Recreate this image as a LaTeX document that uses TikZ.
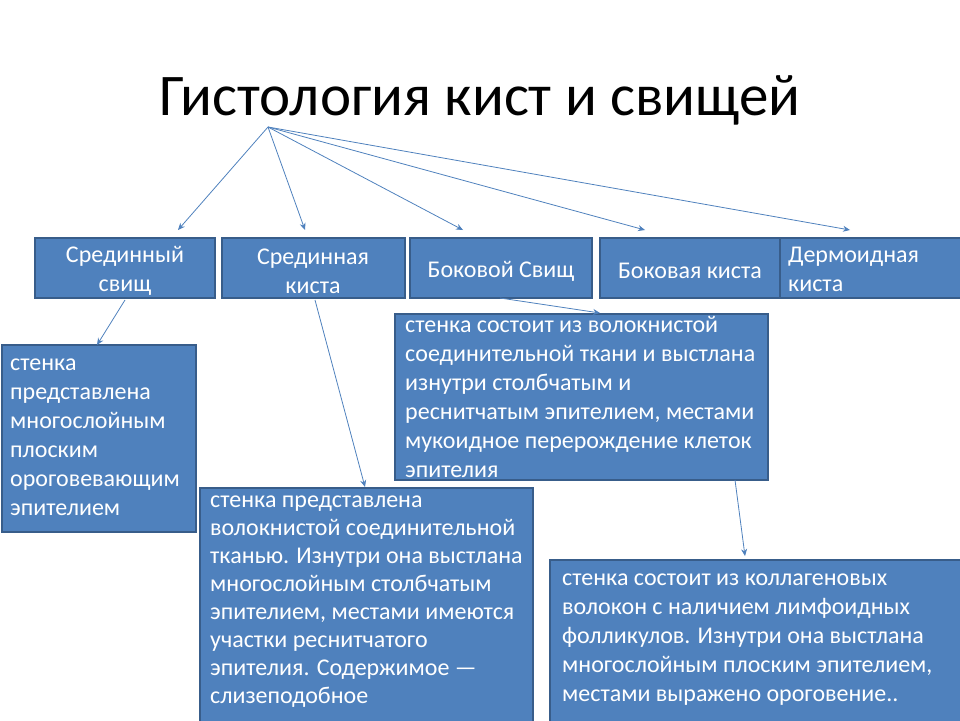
\documentclass[tikz,border=0pt]{standalone}
\usepackage{fontspec}
\setmainfont{Carlito}
\usetikzlibrary{arrows.meta}
\definecolor{bx}{HTML}{4F81BD}
\definecolor{bd}{HTML}{385D8A}
\begin{document}
\begin{tikzpicture}[x=1pt,y=-1pt,
  box/.style={draw=bd,line width=1.8pt,fill=bx,text=white,inner sep=0pt},
  arr/.style={draw=bx,line width=0.8pt,-{Stealth[length=7pt,width=6pt]}},
  txt/.style={text=white,font=\fontsize{24}{29}\selectfont,align=left,anchor=north west,inner sep=0pt}]
\useasboundingbox (0,0) rectangle (960,720);
\node[font=\fontsize{59}{62}\selectfont] (title) at (480,100) {Гистология кист и свищей};
\coordinate (o) at (268,127);
\foreach \n/\a/\b/\c/\d in {b1/35/238/215/298,b2/222/238/405/298,b3/410/238/592/298,b4/600/238/782/298,b5/780/238/962/298,
  bA/2/345/196/532,bB/200/488/533/722,bC/395/314/768/480,bD/550/560/962/722}
  \draw[box] (\a,\b) rectangle (\c,\d) coordinate[pos=0.5] (\n);
\node[txt,align=center,anchor=center] at (125,271) {Срединный\\свищ};
\node[txt,align=center,anchor=center] at (313,271) {Срединная\\киста};
\node[txt,anchor=center] at (501,271) {Боковой Свищ};
\node[txt,anchor=center] at (690,271) {Боковая киста};
\node[txt] at (788,247) {Дермоидная\\киста};
\node[txt] (tA) at (10,359) {стенка\\представлена\\многослойным\\плоским\\ороговевающим\\эпителием};
\node[txt,font=\fontsize{24}{28}\selectfont] (tB) at (210,496) {стенка представлена\\волокнистой соединительной\\тканью. Изнутри она выстлана\\многослойным столбчатым\\эпителием, местами имеются\\участки реснитчатого\\эпителия. Содержимое —\\слизеподобное};
\node[txt] (tC) at (405,316) {стенка состоит из волокнистой\\соединительной ткани и выстлана\\изнутри столбчатым и\\реснитчатым эпителием, местами\\мукоидное перерождение клеток\\эпителия};
\node[txt] (tD) at (562,574) {стенка состоит из коллагеновых\\волокон с наличием лимфоидных\\фолликулов. Изнутри она выстлана\\многослойным плоским эпителием,\\местами выражено ороговение..};
\draw[arr] (o) -- (178,230);
\draw[arr] (o) -- (305,230);
\draw[arr] (o) -- (463,230);
\draw[arr] (o) -- (645,230);
\draw[arr] (o) -- (850,230);
\draw[arr] (125,300) -- (97,345);
\draw[arr] (315,300) -- (365,487);
\draw[arr] (500,298) -- (600,313);
\draw[arr] (735,480) -- (745,556);
\end{tikzpicture}
\end{document}
